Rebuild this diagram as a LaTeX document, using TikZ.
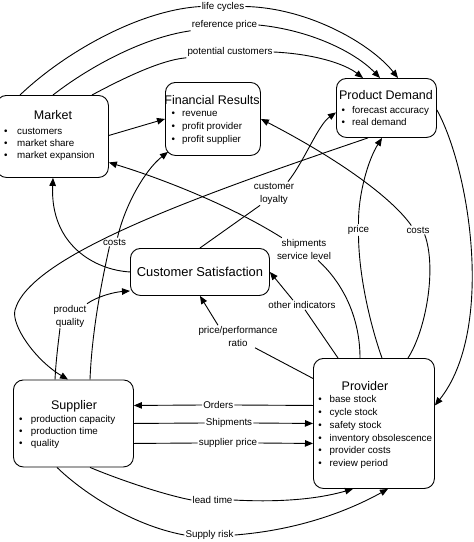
\documentclass[tikz,border=0pt]{standalone}
\usepackage{fontspec}
\setmainfont{Liberation Sans}
\usetikzlibrary{arrows.meta}
\begin{document}
\begin{tikzpicture}[x=1pt,y=-1pt,
  box/.style={draw, rounded corners=10pt, line width=0.9pt, inner sep=0pt, anchor=north west},
  ttl/.style={font=\fontsize{12.5}{14}\selectfont, anchor=base, inner sep=0pt},
  item/.style={font=\fontsize{9.8}{12}\selectfont, anchor=base west, inner sep=0pt},
  lbl/.style={font=\fontsize{9.8}{13}\selectfont, inner sep=1pt, align=center},
  ln/.style={line width=0.9pt},
  arr/.style={line width=0.9pt, -{Triangle[length=8pt,width=6.5pt]}}
]
\path[fill=white] (0,0) rectangle (474,542);
\useasboundingbox (0,0) rectangle (474,542);

% boxes
\node[box, minimum width=112pt, minimum height=82pt] (mkt) at (-4,95) {};
\node[box, minimum width=95pt, minimum height=73pt] (fr) at (165,82) {};
\node[box, minimum width=100pt, minimum height=59pt] (pd) at (336,78) {};
\node[box, minimum width=139pt, minimum height=47pt] (cs) at (130,248) {};
\node[box, minimum width=120pt, minimum height=87pt] (sup) at (13,379.5) {};
\node[box, minimum width=121pt, minimum height=130pt] (prov) at (313,358) {};

% titles
\node[ttl] (mkt-t) at (53,119.5) {Market};
\node[ttl] (fr-t) at (212,104.5) {Financial Results};
\node[ttl] (pd-t) at (386,99.5) {Product Demand};
\node[ttl, font=\fontsize{12.9}{14}\selectfont] (cs-t) at (200,276.7) {Customer Satisfaction};
\node[ttl] (sup-t) at (74,409.5) {Supplier};
\node[ttl] (prov-t) at (365,390) {Provider};

% bullet items
\foreach \t [count=\i] in {customers, market share, market expansion}
  \node[item] (mkt-\i) at (17,{134+(\i-1)*12.2}) {\llap{\textbullet\hspace{9.75pt}}\t};
\foreach \t [count=\i] in {revenue, profit provider, profit supplier}
  \node[item] (fr-\i) at (182,{116.7+(\i-1)*12.8}) {\llap{\textbullet\hspace{7.25pt}}\t};
\foreach \t [count=\i] in {forecast accuracy, real demand}
  \node[item] (pd-\i) at (352,{113.3+(\i-1)*11.8}) {\llap{\textbullet\hspace{7.25pt}}\t};
\foreach \t [count=\i] in {production capacity, production time, quality}
  \node[item] (sup-\i) at (30.7,{422.7+(\i-1)*12}) {\llap{\textbullet\hspace{8.25pt}}\t};
\foreach \t [count=\i] in {base stock, cycle stock, safety stock, inventory obsolescence, provider costs, review period}
  \node[item] (prov-\i) at (329.5,{402.7+(\i-1)*12.8}) {\llap{\textbullet\hspace{8pt}}\t};

% edge labels
\node[lbl] (lc) at (223,6.5) {life cycles};
\node[lbl] (rp) at (224.5,25) {reference price};
\node[lbl] (pc) at (230,52) {potential customers};
\node[lbl] (cost1) at (114.5,242) {costs};
\node[lbl] (cost2) at (418,230) {costs};
\node[lbl] (price) at (358.5,230) {price};
\node[lbl] (cl) at (274,193.5) {customer\\loyalty};
\node[lbl] (ssl) at (304,249) {shipments\\service level};
\node[lbl] (oi) at (302,305) {other indicators};
\node[lbl] (ppr) at (238,336.5) {price/performance\\ratio};
\node[lbl] (pq) at (70,316) {product\\quality};
\node[lbl] (ord) at (218.3,405) {Orders};
\node[lbl] (shp) at (229,423) {Shipments};
\node[lbl] (sp) at (228,443) {supplier price};
\node[lbl] (lt) at (212.5,500) {lead time};
\node[lbl] (sr) at (209.5,535) {Supply risk};
\coordinate (bend) at (15,310);

% Market -> Product Demand
\draw[ln] ([xshift=24pt]mkt.north west) .. controls (65,52) and (140,10) .. (lc.west);
\draw[arr] (lc.east) .. controls (310,8) and (372,45) .. ([xshift=62pt]pd.north west);
\draw[ln] ([xshift=57pt]mkt.north west) .. controls (85,70) and (140,38) .. (rp.south west);
\draw[arr] (rp.east) .. controls (310,30) and (355,52) .. ([xshift=44pt]pd.north west);
\draw[ln] ([xshift=96pt]mkt.north west) .. controls (120,80) and (160,60) .. (pc.south west);
\draw[arr] (pc.east) .. controls (315,54) and (345,64) .. ([xshift=27pt]pd.north west);

% Market -> Financial Results
\draw[arr] ([yshift=1pt]mkt.east) -- (fr.west);

% Provider -> Financial Results (costs)
\draw[ln] ([xshift=95pt]prov.north west) .. controls (426,330) and (437,268) .. ([xshift=-6pt]cost2.south east);
\draw[arr] ([xshift=6pt]cost2.north west) .. controls (392,198) and (340,160) .. (fr.east);

% Provider -> Product Demand (price)
\draw[ln] ([xshift=69pt]prov.north west) .. controls (372,330) and (359,280) .. (price.south);
\draw[arr] (price.north) .. controls (358,195) and (368,160) .. ([xshift=46pt]pd.south west);

% Product Demand -> Provider
\draw[arr] ([yshift=-2pt]pd.east) .. controls (470,170) and (495,330) .. ([yshift=18pt]prov.east);

% Customer Satisfaction -> Product Demand
\draw[ln] (cs.north) -- ([xshift=-14pt]cl.south);
\draw[arr] ([xshift=14pt]cl.north) .. controls (305,160) and (318,125) .. ([yshift=-4.5pt]pd.west);

% Product Demand -> Supplier
\draw[arr] ([xshift=32pt]pd.south west) .. controls (200,195) and (30,255) .. (bend) .. controls (11,325) and (35,360) .. ([xshift=55pt]sup.north west);

% Customer Satisfaction -> Market
\draw[arr] (cs.west) .. controls (95,270) and (50,245) .. ([xshift=57pt]mkt.south west);

% Provider -> Market (shipments service level)
\draw[ln] ([xshift=47pt]prov.north west) .. controls (360,320) and (345,285) .. ([xshift=14pt]ssl.south);
\draw[arr] ([xshift=6pt]ssl.north west) .. controls (230,205) and (160,178) .. ([yshift=-26pt]mkt.east);

% Provider -> Customer Satisfaction
\draw[ln] ([xshift=25pt]prov.north west) -- ([xshift=3pt]oi.south);
\draw[arr] ([xshift=-9pt]oi.north) -- (cs.east);
\draw[ln] ([yshift=45pt]prov.west) -- ([xshift=17pt]ppr.south);
\draw[arr] ([xshift=-20pt]ppr.north) -- (cs.south);

% Supplier -> Financial Results (costs)
\draw[ln] ([xshift=77pt]sup.north west) .. controls (92,330) and (102,280) .. ([xshift=-5pt]cost1.south);
\draw[arr] ([xshift=3pt]cost1.north) .. controls (125,205) and (145,170) .. ([xshift=3pt,yshift=4pt]fr.south west);

% Supplier -> Customer Satisfaction (product quality)
\draw[ln] ([xshift=42pt]sup.north west) .. controls (56,360) and (58,345) .. ([xshift=-10pt]pq.south);
\draw[arr] ([xshift=17pt]pq.north) .. controls (98,296) and (115,292) .. ([yshift=-19pt]cs.west);

% Supplier <-> Provider
\draw[ln] ([yshift=18pt]prov.west) -- (ord.east);
\draw[arr] (ord.west) -- ([yshift=18pt]sup.east);
\draw[ln] (sup.east) -- (shp.west);
\draw[arr] (shp.east) -- (prov.west);
\draw[ln] ([yshift=-20pt]sup.east) -- (sp.west);
\draw[arr] (sp.east) -- ([yshift=-20pt]prov.west);

% lead time, supply risk
\draw[ln] ([xshift=77pt]sup.south west) .. controls (120,480) and (165,495) .. (lt.west);
\draw[arr] (lt.east) .. controls (290,503) and (325,497) .. ([xshift=40pt]prov.south west);
\draw[ln] ([xshift=44pt]sup.south west) .. controls (80,490) and (130,525) .. (sr.west);
\draw[arr] (sr.east) .. controls (300,530) and (350,510) .. ([xshift=75pt]prov.south west);
\end{tikzpicture}
\end{document}
